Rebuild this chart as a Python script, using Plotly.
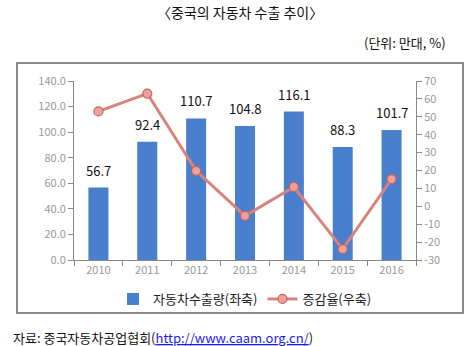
import plotly.graph_objects as go

years = ["2010", "2011", "2012", "2013", "2014", "2015", "2016"]
exports = [56.7, 92.4, 110.7, 104.8, 116.1, 88.3, 101.7]
growth = [53.0, 63.0, 19.8, -5.3, 10.8, -23.9, 15.2]
left_ticks = [0, 20, 40, 60, 80, 100, 120, 140]
right_ticks = [-30, -20, -10, 0, 10, 20, 30, 40, 50, 60, 70]

FONT = "Noto Sans CJK KR"
W, H = 474, 346
L, R, T, B = 74, 58, 81, 86
pw = W - L - R
ph = H - T - B

def px_x(x):
    return (x - L) / pw

def px_y(y):
    return (H - B - y) / ph

fig = go.Figure()
fig.add_trace(go.Bar(
    x=years, y=exports, name="자동차수출량(좌축)",
    marker=dict(color="#4A7FCD", line=dict(width=0)),
    yaxis="y",
))
fig.add_trace(go.Scatter(
    x=years, y=growth, name="증감율(우축)", mode="lines+markers",
    line=dict(color="#D9837E", width=3),
    marker=dict(size=9, color="#EBA29C", line=dict(color="#C9625C", width=1.2)),
    yaxis="y2", cliponaxis=False,
))

# value labels above bars (x given as category index)
for i, v in enumerate(exports):
    fig.add_annotation(x=i, y=v, xref="x", yref="y", text=f"{v:.1f}", showarrow=False,
                       yanchor="bottom", yshift=6,
                       font=dict(family=FONT, size=13, color="#111111"))

tickfont = dict(family=FONT, size=11, color="#999999")
fig.update_layout(
    width=W, height=H,
    margin=dict(l=L, r=R, t=T, b=B),
    paper_bgcolor="white", plot_bgcolor="white",
    font=dict(family=FONT, color="#888888"),
    bargap=0.59,
    showlegend=True,
    legend=dict(orientation="h", x=px_x(245), xanchor="center", y=px_y(299), yanchor="middle",
                font=dict(family=FONT, size=13, color="#222222"),
                itemwidth=30, tracegroupgap=0, bgcolor="rgba(0,0,0,0)"),
    xaxis=dict(type="category", range=[-0.5, 6.5], showgrid=False, showline=True,
               linecolor="#888888", linewidth=1,
               ticks="outside", tickson="boundaries", ticklen=5, tickcolor="#888888",
               tickfont=tickfont),
    yaxis=dict(range=[0, 140], tickvals=left_ticks, ticktext=[f"{v:.1f}" for v in left_ticks],
               showgrid=False, zeroline=False,
               showline=True, linecolor="#888888", linewidth=1, ticks="outside", ticklen=5,
               tickcolor="#888888", tickfont=tickfont),
    yaxis2=dict(range=[-30, 70], tickvals=right_ticks, ticktext=[str(v) for v in right_ticks],
                overlaying="y", side="right", showgrid=False,
                zeroline=False, showline=True, linecolor="#888888", linewidth=1, ticks="outside",
                ticklen=5, tickcolor="#888888", tickfont=tickfont),
)

# chart border box
fig.add_shape(type="rect", xref="paper", yref="paper",
              x0=px_x(17), x1=px_x(463), y0=px_y(313), y1=px_y(63),
              line=dict(color="#8A8A8A", width=2), fillcolor="rgba(0,0,0,0)", layer="below")

fig.add_annotation(xref="paper", yref="paper", x=px_x(240), y=px_y(12), xanchor="center", yanchor="middle",
                   text="〈중국의 자동차 수출 추이〉", showarrow=False,
                   font=dict(family=FONT, size=14, color="#111111"))
fig.add_annotation(xref="paper", yref="paper", x=px_x(448), y=px_y(42), xanchor="right", yanchor="middle",
                   text="(단위: 만대, %)", showarrow=False,
                   font=dict(family=FONT, size=13, color="#111111"))
fig.add_annotation(xref="paper", yref="paper", x=px_x(11), y=px_y(337), xanchor="left", yanchor="middle",
                   text="자료: 중국자동차공업협회(<span style='color:#1a1aff'><u>http://www.caam.org.cn/</u></span>)",
                   showarrow=False, font=dict(family=FONT, size=13, color="#111111"))

fig.write_html("out.html")
